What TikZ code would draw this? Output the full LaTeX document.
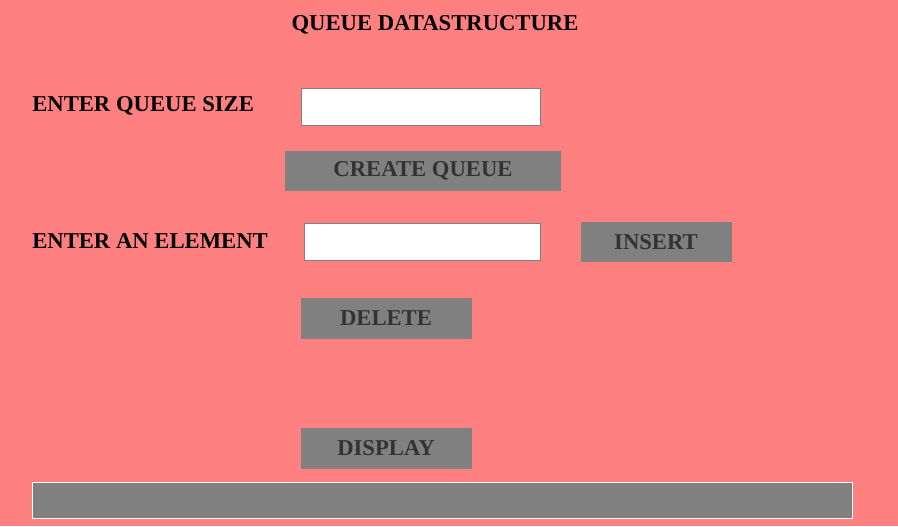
\documentclass[tikz,border=0pt]{standalone}
\usepackage{fontspec}
\setmainfont{Liberation Serif}
\definecolor{bg}{HTML}{FF8080}
\definecolor{btn}{HTML}{808080}
\definecolor{btxt}{HTML}{333333}
\tikzset{
  lbl/.style={font=\bfseries\fontsize{17}{20}\selectfont, text=black, inner sep=0pt},
  btnbox/.style={fill=btn, draw=none, font=\bfseries\fontsize{17}{20}\selectfont, text=btxt},
  field/.style={fill=white, draw=gray, line width=0.75pt},
}
\begin{document}
\begin{tikzpicture}[x=0.75pt,y=-0.75pt]
\fill[bg] (0,0) rectangle (898,526);
\useasboundingbox (0,0) rectangle (898,526);
\node[lbl] (title) at (435,25) {QUEUE DATASTRUCTURE};
\node[lbl,anchor=west] (l1) at (32,106) {ENTER QUEUE SIZE};
\draw[field] (301,88) rectangle (540,125);
\node (f1) at (420,106) {};
\fill[btn] (285,151) rectangle (561,191);
\node[btnbox] (create) at (423,171) {CREATE QUEUE};
\node[lbl,anchor=west] (l2) at (32,241) {ENTER AN ELEMENT};
\draw[field] (304,223) rectangle (540,260);
\node (f2) at (422,241) {};
\fill[btn] (581,222) rectangle (732,262);
\node[btnbox] (insert) at (656,242) {INSERT};
\fill[btn] (301,298) rectangle (472,339);
\node[btnbox] (delete) at (386,318) {DELETE};
\fill[btn] (301,428) rectangle (472,469);
\node[btnbox] (display) at (386,448) {DISPLAY};
\draw[fill=btn, draw=white, line width=0.75pt] (32,482) rectangle (852,518);
\node (bar) at (442,500) {};
\end{tikzpicture}
\end{document}
